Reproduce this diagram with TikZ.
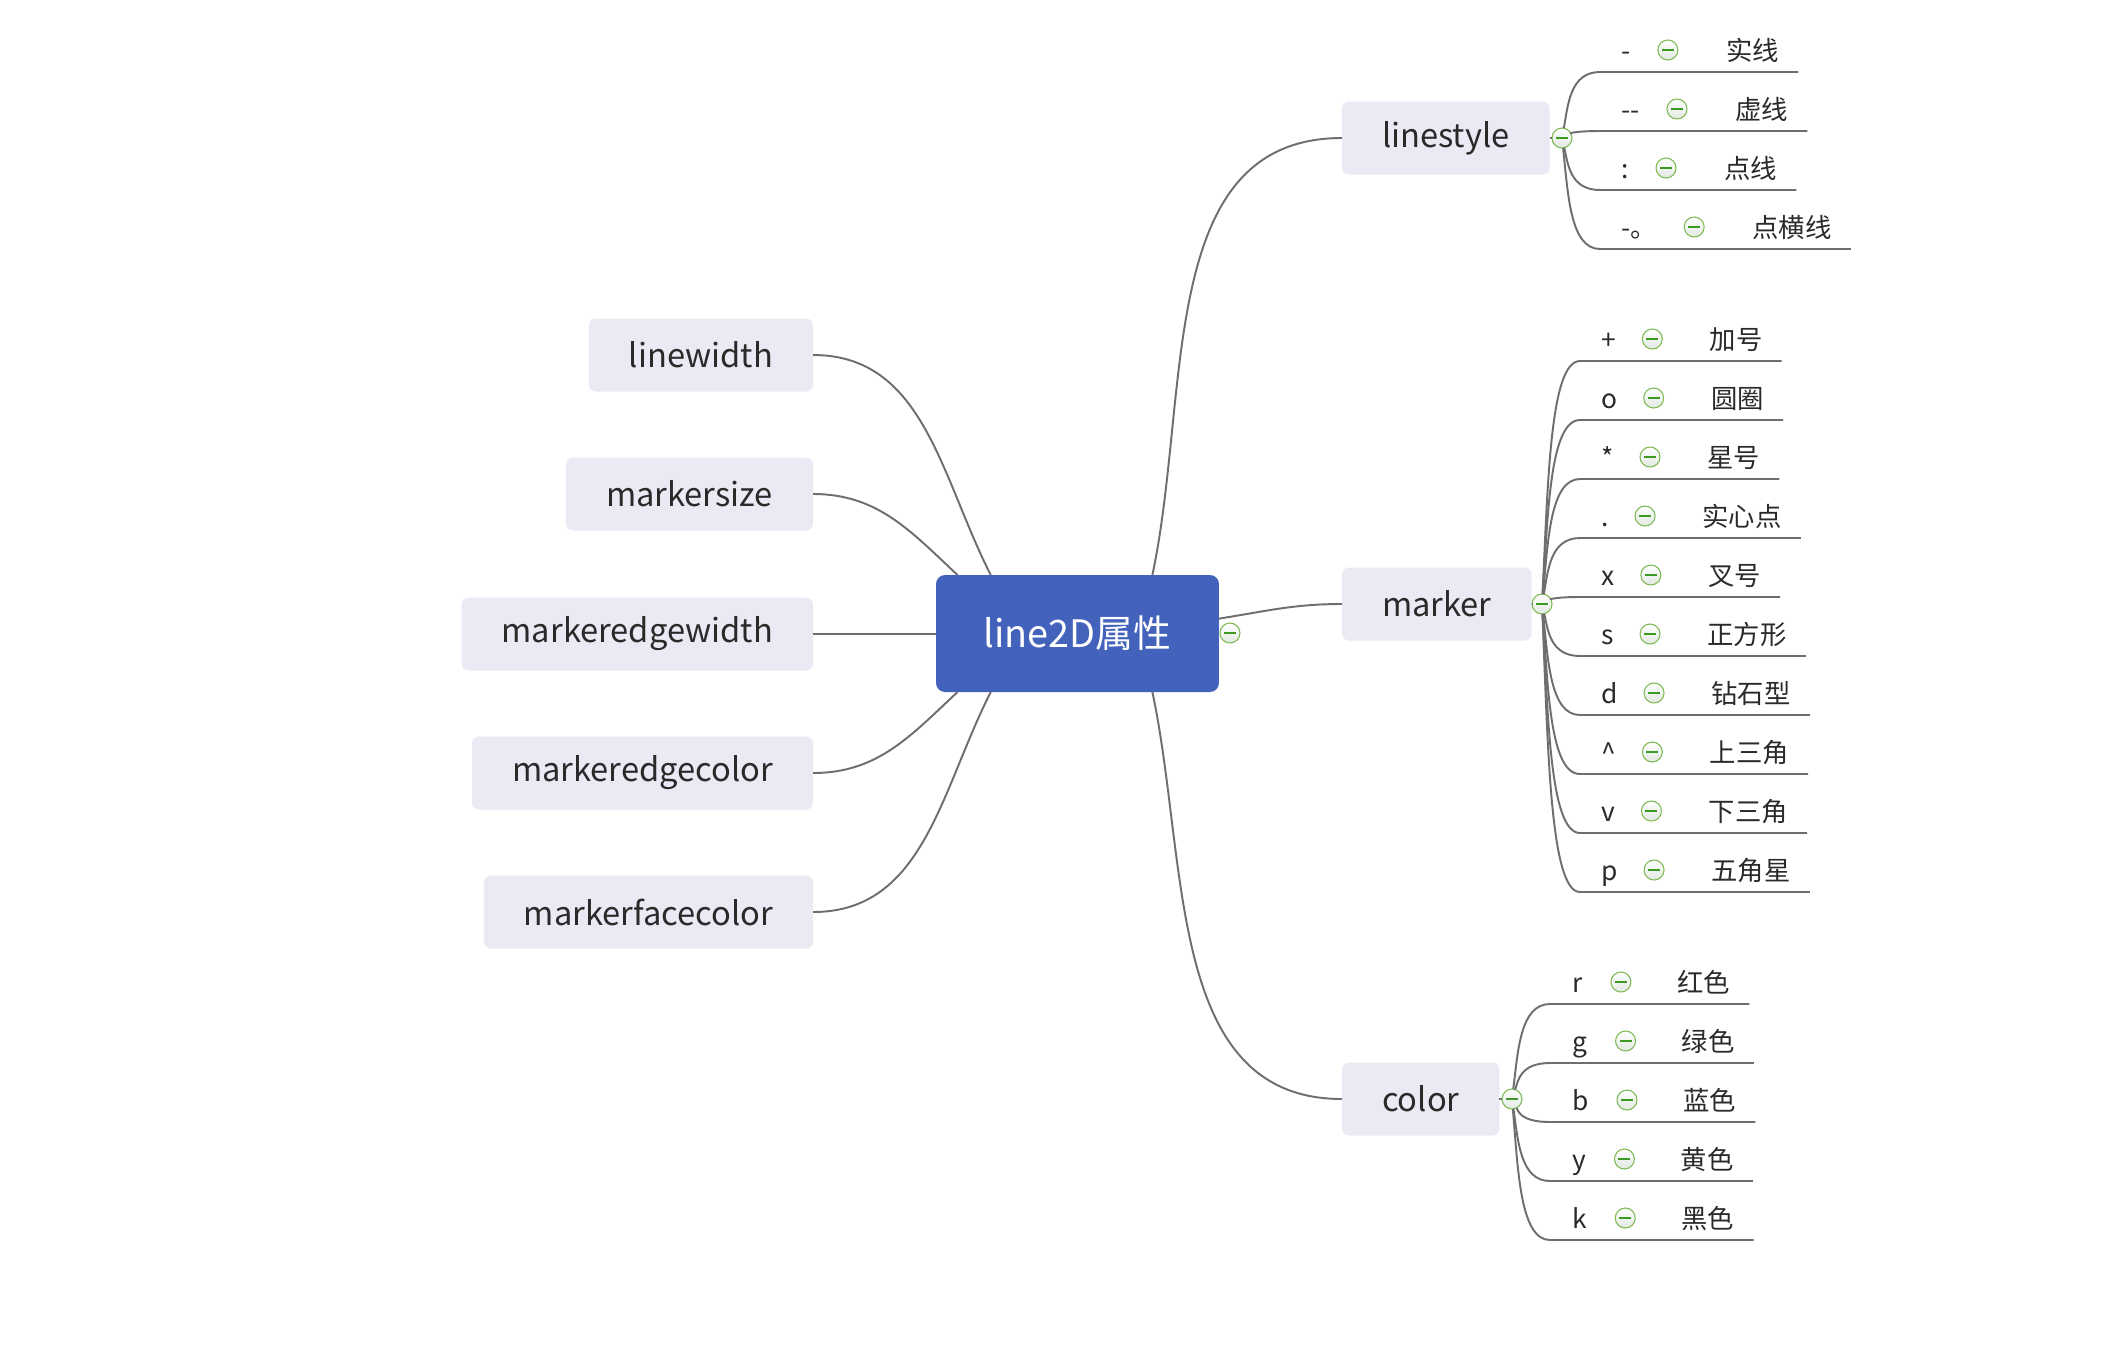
\documentclass[tikz,border=0pt]{standalone}
\usepackage{fontspec}
\setmainfont{Noto Sans CJK SC}
\usepackage{tikz}
\usetikzlibrary{calc,positioning}
\definecolor{topicbg}{HTML}{E9EAF3}
\definecolor{rootblue}{HTML}{4262BB}
\definecolor{linkgray}{HTML}{6E6E6E}
\definecolor{foldgreen}{HTML}{7DBA4F}
\definecolor{minusgreen}{HTML}{3A9A22}
\definecolor{txtdark}{HTML}{2A2A2A}
\tikzstyle{topic}  =[rectangle, rounded corners=0.14cm, fill=topicbg,
                     text=txtdark, minimum height=1.46cm, inner xsep=0.8cm,
                     outer sep=0pt, font=\fontsize{18.6}{22}\selectfont]
\tikzstyle{central}=[rectangle, rounded corners=0.18cm, fill=rootblue,
                     text=white, minimum width=5.66cm, minimum height=2.34cm,
                     outer sep=0pt, font=\fontsize{21.5}{24}\selectfont]
\tikzstyle{link}   =[draw=linkgray, line width=1.1pt]
\tikzstyle{fold}   =[circle, draw=foldgreen, line width=0.6pt,
                     top color=white, bottom color=green!12!gray!20,
                     minimum size=0.4cm, inner sep=0pt, outer sep=0pt,
                     path picture={\draw[minusgreen, line width=0.7pt]
                       ($(path picture bounding box.center)+(-6,0)$) --
                       ($(path picture bounding box.center)+(6,0)$);}]
\tikzstyle{leaf}   =[inner sep=0pt, text height=0.52cm, text depth=0.12cm,
                     text=txtdark, font=\fontsize{15}{17}\selectfont]

\begin{document}
\begin{tikzpicture}[x=0.02cm, y=0.02cm]
    \fill[white] (0,0) rectangle (2120,-1357);
    \useasboundingbox (0,0) rectangle (2120,-1357);

    % centre and main branches
    \node[central] (root) at (1077.5,-633.5) {line2D属性};
    \node[fold] (rootf) at (1230,-633) {};

    \node[topic, anchor=east] (lw)  at (813,-355) {linewidth};
    \node[topic, anchor=east] (ms)  at (813,-494) {markersize};
    \node[topic, anchor=east] (mew) at (813,-634) {markeredgewidth};
    \node[topic, anchor=east] (mec) at (813,-773) {markeredgecolor};
    \node[topic, anchor=east] (mfc) at (813,-912) {markerfacecolor};

    \node[topic, anchor=west] (ls) at (1342,-138)  {linestyle};
    \node[topic, anchor=west] (mk) at (1342,-604)  {marker};
    \node[topic, anchor=west] (co) at (1342,-1099) {color};

    \draw[link] (lw.east)  to[out=0,in=117]  (root.146);
    \draw[link] (ms.east)  to[out=0,in=137]  (root.154);
    \draw[link] (mew.east) -- (mew.east -| root.west);
    \draw[link] (mec.east) to[out=0,in=-137] (root.-154);
    \draw[link] (mfc.east) to[out=0,in=-117] (root.-146);

    \draw[link] (root.38)  to[out=78,in=180]  (ls.west);
    \draw[link] (root.6)   to[out=9,in=180]   (mk.west);
    \draw[link] (root.-38) to[out=-78,in=180] (co.west);

    % linestyle
    \node[fold] (lsf) at (1562,-138) {};
    \draw[link] (ls.east) -- (lsf);
    \foreach \mk/\zh [count=\i from 0, evaluate=\i as \ly using -72-59*\i]
        in {-/实线, -\kern0pt-/虚线, :/点线, -。/点横线}{
        \coordinate (ls-\i-s) at (1600,\ly);
        \node[leaf, anchor=west] (ls-\i-k) at (1621,\ly+22) {\mk};
        \node[fold, right=0.54cm of ls-\i-k] (ls-\i-f) {};
        \node[leaf, right=0.96cm of ls-\i-f] (ls-\i-t) {\zh};
        \draw[link] (lsf) .. controls (1568,{(\ly-138)/2}) and (1570,\ly) .. (ls-\i-s)
            -- ($(ls-\i-t.east |- ls-\i-s)+(19,0)$);
    }

    % marker
    \node[fold] (mkf) at (1542,-604) {};
    \draw[link] (mk.east) -- (mkf);
    \foreach \mk/\zh [count=\i from 0, evaluate=\i as \ly using -361-59*\i]
        in {+/加号, o/圆圈, */星号, ./实心点, x/叉号, s/正方形, d/钻石型,
            \textasciicircum/上三角, v/下三角, p/五角星}{
        \coordinate (mk-\i-s) at (1580,\ly);
        \node[leaf, anchor=west] (mk-\i-k) at (1601,\ly+22) {\mk};
        \node[fold, right=0.52cm of mk-\i-k] (mk-\i-f) {};
        \node[leaf, right=0.94cm of mk-\i-f] (mk-\i-t) {\zh};
        \draw[link] (mkf) .. controls (1548,{(\ly-604)/2}) and (1550,\ly) .. (mk-\i-s)
            -- ($(mk-\i-t.east |- mk-\i-s)+(19,0)$);
    }

    % color
    \node[fold] (cof) at (1512,-1099) {};
    \draw[link] (co.east) -- (cof);
    \foreach \mk/\zh [count=\i from 0, evaluate=\i as \ly using -1004-59*\i]
        in {r/红色, g/绿色, b/蓝色, y/黄色, k/黑色}{
        \coordinate (co-\i-s) at (1550,\ly);
        \node[leaf, anchor=west] (co-\i-k) at (1572,\ly+22) {\mk};
        \node[fold, right=0.56cm of co-\i-k] (co-\i-f) {};
        \node[leaf, right=0.92cm of co-\i-f] (co-\i-t) {\zh};
        \draw[link] (cof) .. controls (1518,{(\ly-1099)/2}) and (1520,\ly) .. (co-\i-s)
            -- ($(co-\i-t.east |- co-\i-s)+(19,0)$);
    }
\end{tikzpicture}
\end{document}
